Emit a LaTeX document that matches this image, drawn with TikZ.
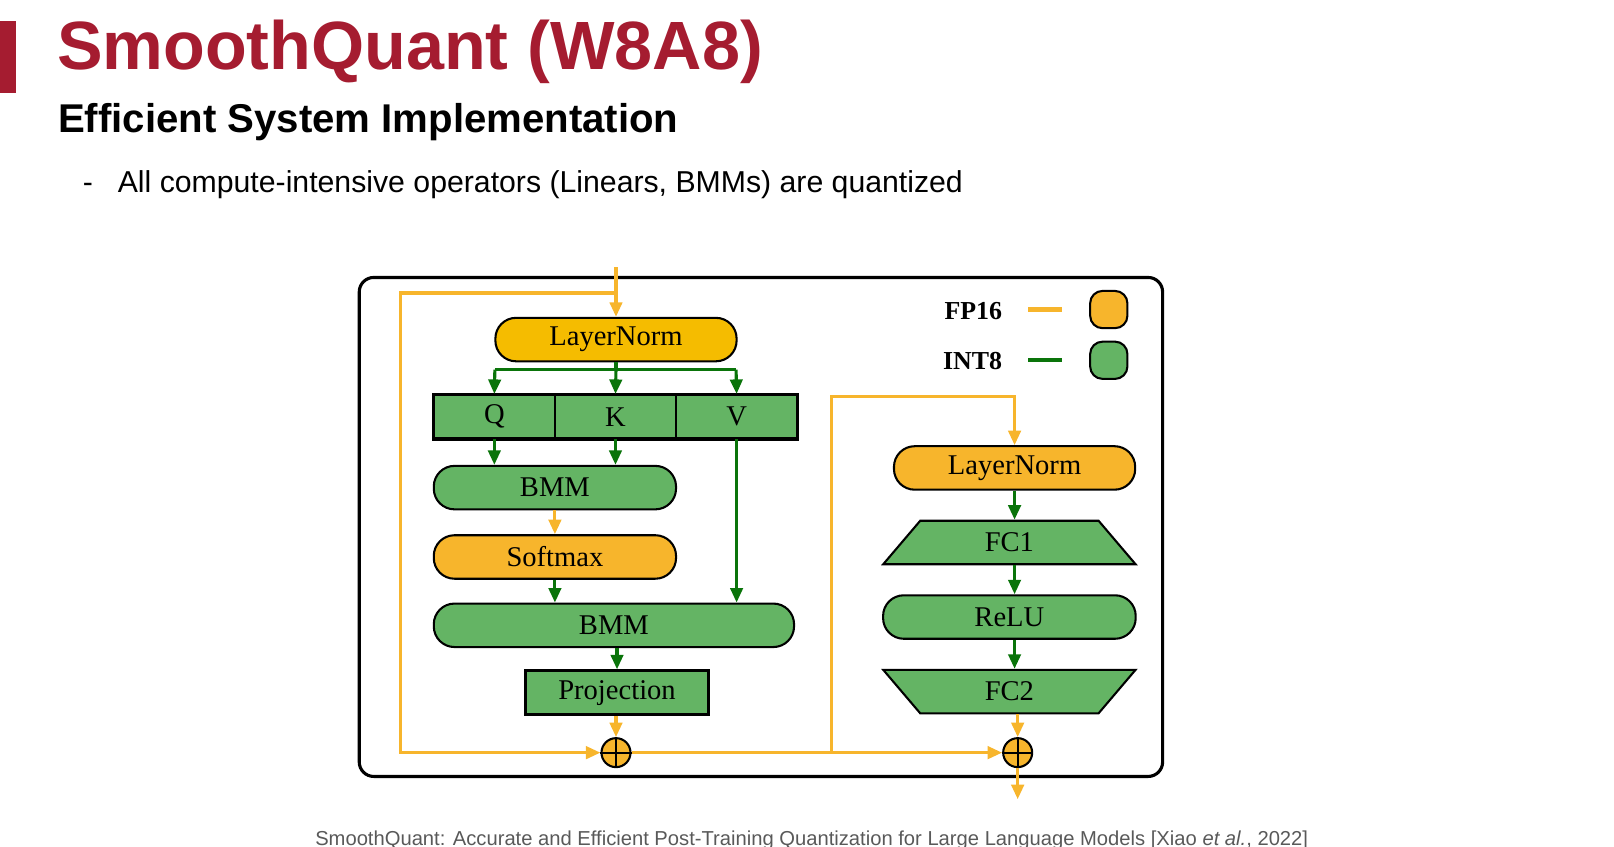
\documentclass[tikz,border=0pt]{standalone}
\usepackage{fontspec}
\setmainfont{Liberation Sans}
\newfontfamily\tms{Liberation Serif}
\usetikzlibrary{arrows.meta,shapes.geometric}
\definecolor{sqred}{HTML}{A51C30}
\definecolor{fporange}{HTML}{F7B52C}
\definecolor{lnyellow}{HTML}{F5BC00}
\definecolor{intgreen}{HTML}{64B464}
\definecolor{lgreen}{HTML}{0A740A}
\begin{document}
\begin{tikzpicture}[x=0.5pt,y=-0.5pt,
  blk/.style={draw=black,line width=1pt,font=\tms\fontsize{13.8}{14}\selectfont,inner sep=0pt},
  pill/.style={blk,rounded corners=10pt,minimum height=21pt},
  box/.style={blk,minimum height=21pt},
  fl/.style={draw=fporange,line width=1.5pt},
  il/.style={draw=lgreen,line width=1.5pt},
  tip/.style={-{Triangle[width=6pt,length=7pt]}},
  plus/.style={circle,draw=black,line width=1pt,fill=fporange,minimum size=14pt,inner sep=0pt},
  leg/.style={font=\tms\bfseries\fontsize{12.5}{13}\selectfont,anchor=east}]
\useasboundingbox (0,0) rectangle (1559,818);
\fill[sqred] (0,20) rectangle (15,90);
\node[anchor=west,text=sqred,font=\bfseries\fontsize{33}{36}\selectfont] (title) at (48,50) {SmoothQuant (W8A8)};
\node[anchor=west,font=\bfseries\fontsize{19.4}{21}\selectfont] (sub) at (49,118) {Efficient System Implementation};
\node[anchor=west,font=\fontsize{14.6}{16}\selectfont] (bul) at (73,178) {-\hspace{12pt}All compute-intensive operators (Linears, BMMs) are quantized};
\node[text=black!65,font=\fontsize{9.75}{11}\selectfont] (foot) at (784,812) {SmoothQuant: Accurate and Efficient Post-Training Quantization for Large Language Models [Xiao \textit{et al.}, 2022]};

\node[draw=black,line width=1.5pt,rounded corners=7pt,minimum width=388pt,minimum height=241pt,inner sep=0pt] (frame) at (735,509) {};

% left block
\coordinate (in) at (595,258);
\node[pill,fill=lnyellow,minimum width=116.5pt] (ln1) at (595,328) {LayerNorm};
\node[box,fill=intgreen,minimum width=58.5pt] (q) at (477.5,402.5) {Q};
\node[box,fill=intgreen,minimum width=58.5pt] (k) at (594.5,402.5) {K};
\node[box,fill=intgreen,minimum width=58.5pt] (v) at (711.5,402.5) {V};
\draw[line width=1.5pt] (419,381) rectangle (770,424);
\node[pill,fill=intgreen,minimum width=117pt] (bmm1) at (536,471) {BMM};
\node[pill,fill=fporange,minimum width=117pt] (soft) at (536,538) {Softmax};
\node[pill,fill=intgreen,minimum width=174pt] (bmm2) at (593,604) {BMM};
\node[box,fill=intgreen,line width=1.5pt,minimum width=88pt] (proj) at (596,669) {Projection};
\node[plus] (p1) at (595,727) {};
\draw[line width=1pt] (p1.north) -- (p1.south) (p1.west) -- (p1.east);

% right block
\node[pill,fill=fporange,minimum width=116.5pt] (ln2) at (980,452) {LayerNorm};
\node[blk,trapezium,trapezium stretches=true,trapezium angle=62,fill=intgreen,minimum width=122pt,minimum height=21pt] (fc1) at (975,524) {FC1};
\node[pill,fill=intgreen,minimum width=122pt] (relu) at (975,596) {ReLU};
\node[blk,trapezium,trapezium stretches=true,trapezium angle=62,shape border rotate=180,fill=intgreen,minimum width=122pt,minimum height=21pt] (fc2) at (975,668) {FC2};
\node[plus] (p2) at (983,727) {};
\draw[line width=1pt] (p2.north) -- (p2.south) (p2.west) -- (p2.east);
\coordinate (out) at (983,772);

% connectors
\draw[fl,tip] (in) -- (ln1.north);
\draw[fl,tip] (595,283) -- (387,283) -- (387,727) -- (p1.west);
\draw[il] (ln1.south) -- (595,357);
\draw[il] (478,357) -- (711,357);
\draw[il,tip] (478,357) -- (q.north);
\draw[il,tip] (595,357) -- (k.north);
\draw[il,tip] (711,357) -- (v.north);
\draw[il,tip] (q.south) -- (bmm1.north -| q.south);
\draw[il,tip] (k.south) -- (bmm1.north -| k.south);
\draw[fl,tip] (bmm1.south) -- (soft.north);
\draw[il,tip] (soft.south) -- (bmm2.north -| soft.south);
\draw[il,tip] (v.south) -- (bmm2.north -| v.south);
\draw[il,tip] (bmm2.south -| proj.north) -- (proj.north);
\draw[fl,tip] (proj.south -| p1.north) -- (p1.north);
\draw[fl,tip] (p1.east) -- (p2.west);
\draw[fl,tip] (803,727) -- (803,383) -- (980,383) -- (ln2.north);
\draw[il,tip] (ln2.south) -- (ln2.south |- fc1.north);
\draw[il,tip] (fc1.south -| ln2.south) -- (ln2.south |- relu.north);
\draw[il,tip] (relu.south -| ln2.south) -- (ln2.south |- fc2.north);
\draw[fl,tip] (fc2.south -| p2.north) -- (p2.north);
\draw[fl,tip] (p2.south) -- (out);

% legend
\node[leg] (fp) at (975,300) {FP16};
\node[leg] (int) at (975,349) {INT8};
\coordinate (fa) at (993,299); \coordinate (fb) at (1026,299);
\coordinate (ia) at (993,348); \coordinate (ib) at (1026,348);
\draw[fl,line width=2pt] (fa) -- (fb);
\draw[il,line width=2pt] (ia) -- (ib);
\node[draw=black,line width=1pt,fill=fporange,rounded corners=6pt,minimum width=18pt,minimum height=18pt] (fpbox) at (1071,299) {};
\node[draw=black,line width=1pt,fill=intgreen,rounded corners=6pt,minimum width=18pt,minimum height=18pt] (intbox) at (1071,348) {};
\end{tikzpicture}
\end{document}
